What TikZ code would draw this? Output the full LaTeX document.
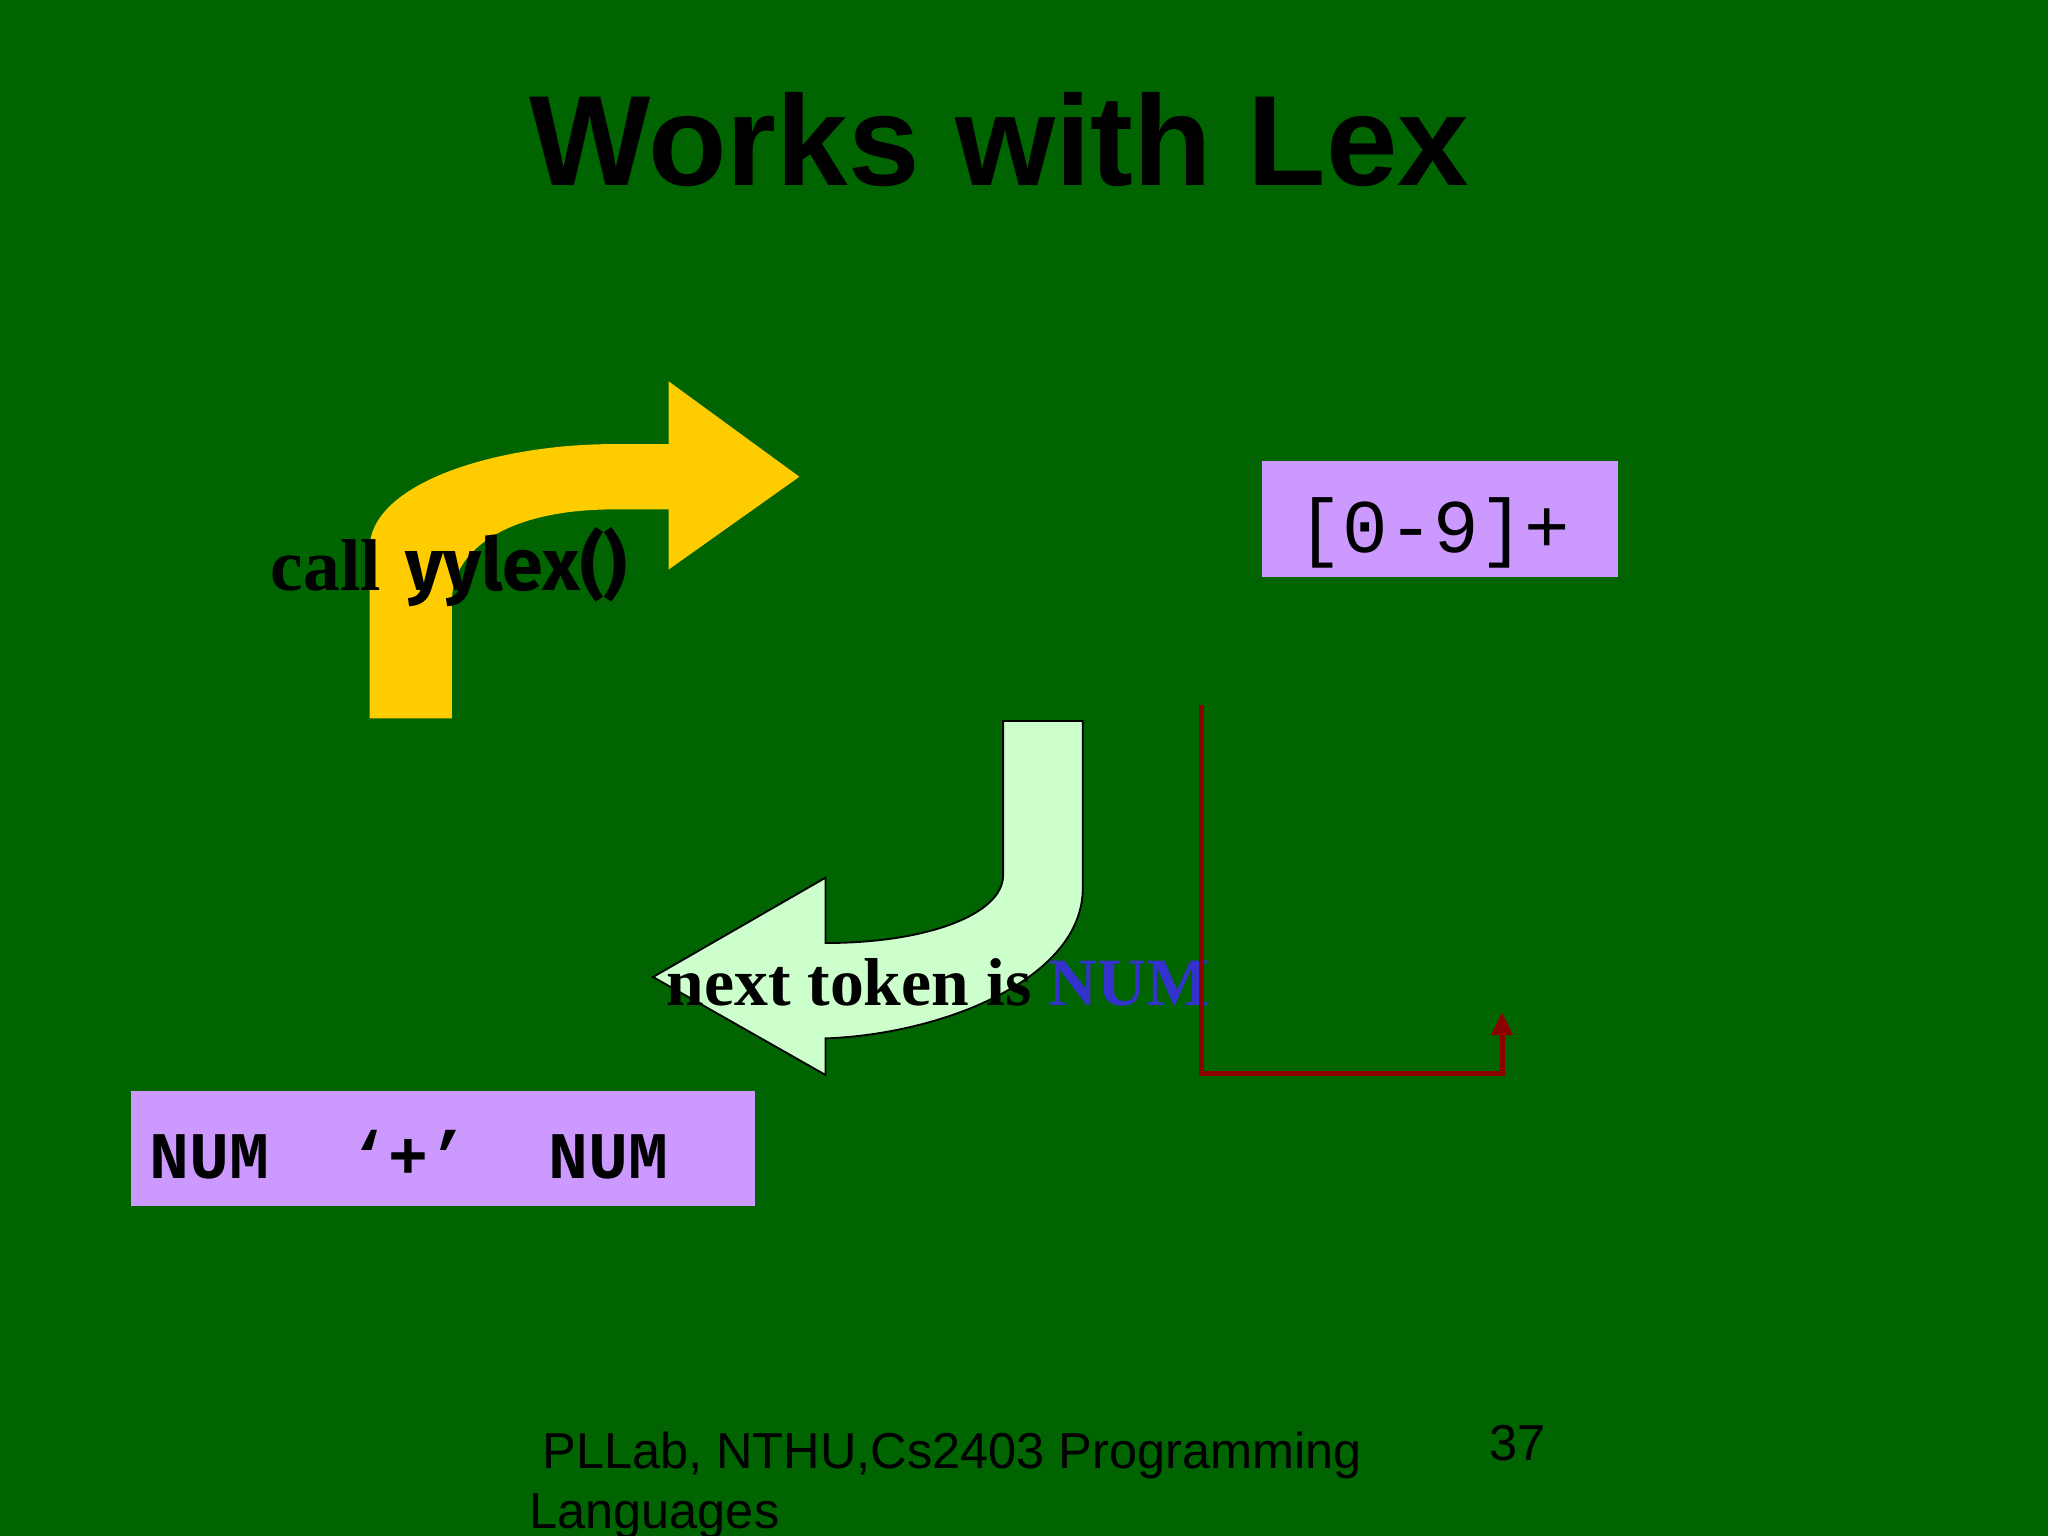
\documentclass[tikz,border=0pt]{standalone}
\usepackage{fontspec}
\setmainfont{Liberation Serif}
\setsansfont{Liberation Sans}
\setmonofont[Ligatures=TeX]{Liberation Mono}
\newfontfamily\comicf{Fira Sans}
\usetikzlibrary{arrows.meta}
\definecolor{bg}{RGB}{0,100,0}
\definecolor{yel}{RGB}{255,204,0}
\definecolor{lgreen}{RGB}{204,255,204}
\definecolor{purp}{RGB}{204,153,255}
\definecolor{dred}{RGB}{140,0,0}
\definecolor{nblue}{RGB}{51,51,204}
\tikzset{P/.style={x=0.02cm,y=-0.02cm},
 lbl/.style={inner sep=0pt,anchor=base west},
 pbox/.style={fill=purp,draw=none}}
\begin{document}
\begin{tikzpicture}[P]
\fill[bg] (0,0) rectangle (1568,1176);
\useasboundingbox (0,0) rectangle (1568,1176);
\node[lbl,anchor=base] (title) at (765,142) {\sffamily\bfseries\fontsize{56}{60}\selectfont Works with Lex};
% yellow arrow
\fill[yel] (283,550) -- (283,420) .. controls (283,370) and (380,340) .. (470,340) -- (512,340) -- (512,292) -- (612,365) -- (512,436) -- (512,390) -- (470,390) .. controls (390,390) and (346,420) .. (346,460) -- (346,550) -- cycle;
% light green arrow
\filldraw[fill=lgreen,draw=black,line width=0.8pt] (768,552) -- (829,552) -- (829,680) .. controls (829,750) and (720,792) .. (632,795) -- (632,823) -- (500,748) -- (632,672) -- (632,722) .. controls (710,722) and (768,700) .. (768,670) -- cycle;
\node[lbl] (call) at (207,452) {\bfseries\fontsize{32}{34}\selectfont call};
\node[lbl] (yy) at (310,452) {\comicf\bfseries\fontsize{32}{34}\selectfont yylex()};
\node[lbl] (next) at (510,770) {\bfseries\fontsize{29.5}{32}\selectfont next token is \textcolor{nblue}{NUM}};
\fill[pbox] (966,353) rectangle (1239,442);
\node[lbl] (re) at (993,423) {\ttfamily\fontsize{33}{36}\selectfont [0-9]+};
\fill[pbox] (100,835) rectangle (578,923);
\node[lbl] (gram) at (114,902) {\ttfamily\bfseries\fontsize{29}{32}\selectfont NUM\ \ ‘+’\ \ NUM};
\coordinate (r1) at (920,540);
\coordinate (r2) at (920,822);
\coordinate (r3) at (1150,822);
\coordinate (r4) at (1150,775);
\draw[dred,line width=2.2pt,-{Triangle[length=10pt,width=9pt]}] (r1) -- (r2) -- (r3) -- (r4);
\node[lbl] (f1) at (415,1124) {\sffamily\fontsize{22}{24}\selectfont PLLab, NTHU,Cs2403 Programming};
\node[lbl] (f2) at (405,1170) {\sffamily\fontsize{22}{24}\selectfont Languages};
\node[lbl] (pg) at (1140,1118) {\sffamily\fontsize{22}{24}\selectfont 37};
\end{tikzpicture}
\end{document}
